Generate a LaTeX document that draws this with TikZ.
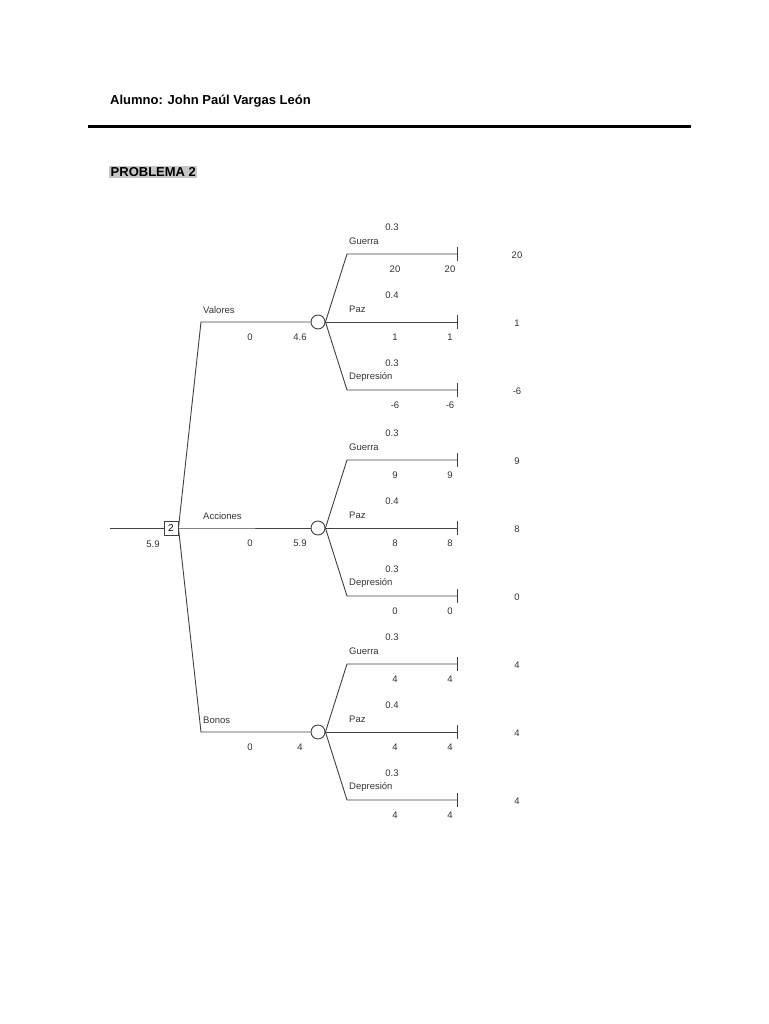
\documentclass[tikz,border=0pt]{standalone}
\usepackage{fontspec}
\setmainfont{Liberation Sans}
\begin{document}
\begin{tikzpicture}[x=1pt,y=-1pt,
  br/.style={draw=black!75,line width=0.9pt},
  lab/.style={font=\fontsize{9.5}{10}\selectfont,text=black!80,inner sep=0pt},
  chance/.style={circle,draw=black!75,line width=0.9pt,fill=white,minimum size=14pt,inner sep=0pt},
  dec/.style={rectangle,draw=black!75,line width=0.9pt,fill=white,minimum size=14pt,inner sep=0pt,font=\fontsize{10}{10}\selectfont}]
\useasboundingbox (0,0) rectangle (768,1024);
\node[anchor=west,font=\bfseries\fontsize{13}{14}\selectfont,inner sep=0pt] (alumno) at (110,101) {Alumno: John Paúl Vargas León};
\draw[line width=3pt] (88,127) -- (691,127);
\node[anchor=west,font=\bfseries\fontsize{13}{14}\selectfont,fill=black!22,inner sep=1.5pt] (prob) at (109,172) {PROBLEMA 2};
\coordinate (start) at (110,528);
\node[dec] (d) at (171,528) {2};
\draw[br] (start) -- (d.west);
\node[lab] (dv) at (153,544) {5.9};
\foreach \y/\lbl/\ev/\a/\b/\c [count=\i] in {322/Valores/4.6/20/1/-6, 528/Acciones/5.9/9/8/0, 732/Bonos/4/4/4/4}{
  \coordinate (k\i) at (201,\y);
  \node[chance] (c\i) at (318,\y) {};
  \draw[br] (d.east) -- (k\i) -- (c\i);
  \node[lab,anchor=west] (lb\i) at (203,\y-12) {\lbl};
  \node[lab] (z\i) at (250,\y+15) {0};
  \node[lab] (e\i) at (300,\y+15) {\ev};
  \foreach \dy/\nm/\p/\v [count=\j] in {-68/Guerra/0.3/\a, 0/Paz/0.4/\b, 68/Depresión/0.3/\c}{
    \pgfmathsetmacro{\yy}{\y+\dy}
    \coordinate (b\i\j) at (347,\yy);
    \coordinate (t\i\j) at (457,\yy);
    \ifnum\j=2
      \draw[br] (c\i.east) -- (t\i\j);
    \else
      \draw[br] (c\i.east) -- (b\i\j) -- (t\i\j);
    \fi
    \draw[br] (457,\yy-7) -- (457,\yy+7);
    \node[lab] (p\i\j) at (392,\yy-27) {\p};
    \node[lab,anchor=west] (n\i\j) at (349,\yy-13) {\nm};
    \node[lab] (v\i\j) at (395,\yy+15) {\v};
    \node[lab] (w\i\j) at (450,\yy+15) {\v};
    \node[lab] (r\i\j) at (517,\yy+1) {\v};
  }
}
\end{tikzpicture}
\end{document}
